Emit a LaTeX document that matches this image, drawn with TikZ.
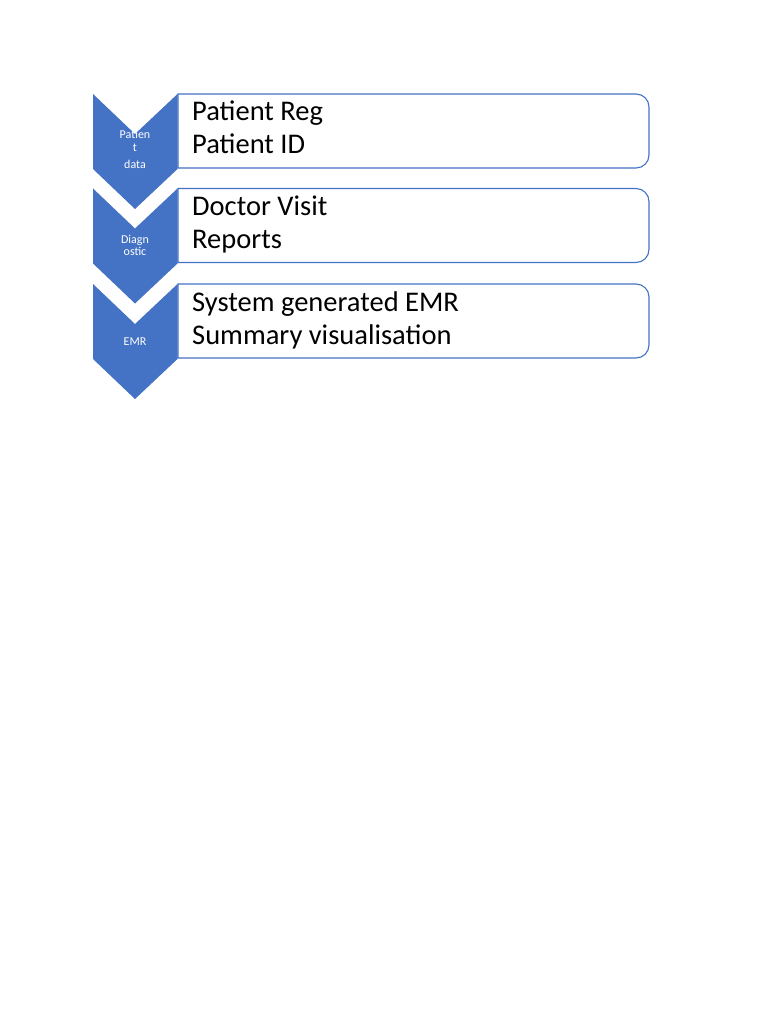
\documentclass[tikz,border=0pt]{standalone}
\usepackage{fontspec}
\setmainfont{Carlito}
\definecolor{chevblue}{HTML}{4472C4}
\tikzset{
  chev/.style={fill=chevblue, draw=none},
  boxline/.style={draw=chevblue, line width=1.1pt, fill=white},
  bigtext/.style={anchor=base west, inner sep=0pt, font=\fontsize{28.5}{33}\selectfont, text=black},
  smalltext/.style={anchor=base, inner sep=0pt, font=\fontsize{12}{13}\selectfont, text=white}
}
\begin{document}
\begin{tikzpicture}[x=1pt,y=1pt]
\useasboundingbox (0,0) rectangle (768,-1024);
\fill[white] (0,0) rectangle (768,-1024);
% boxes
\foreach \t in {94,188.5,284}{
  \draw[boxline] (178,-\t) -- (636,-\t) arc[start angle=90,end angle=0,radius=13]
     -- (649,-\t-61) arc[start angle=0,end angle=-90,radius=13] -- (178,-\t-74) -- cycle;
}
% chevrons
\foreach \t in {94,188.5,284}{
  \fill[chev] (93,-\t) -- (135,-\t-40) -- (177.5,-\t) -- (177.5,-\t-75) -- (135,-\t-115) -- (93,-\t-75) -- cycle;
}
% chevron labels
\node[smalltext] (c1a) at (135,-138.5) {Patien};
\node[smalltext] (c1b) at (135,-152) {t};
\node[smalltext] (c1c) at (135,-169) {data};
\node[smalltext] (c2a) at (135,-243.5) {Diagn};
\node[smalltext] (c2b) at (135,-255.5) {ostic};
\node[smalltext] (c3a) at (135,-345) {EMR};
% box texts
\node[bigtext] (b1a) at (192,-121) {Patient Reg};
\node[bigtext] (b1b) at (192,-154) {Patient ID};
\node[bigtext] (b2a) at (192,-215.5) {Doctor Visit};
\node[bigtext] (b2b) at (192,-248.5) {Reports};
\node[bigtext] (b3a) at (192,-311) {System generated EMR};
\node[bigtext] (b3b) at (192,-344) {Summary visualisation};
\end{tikzpicture}
\end{document}
